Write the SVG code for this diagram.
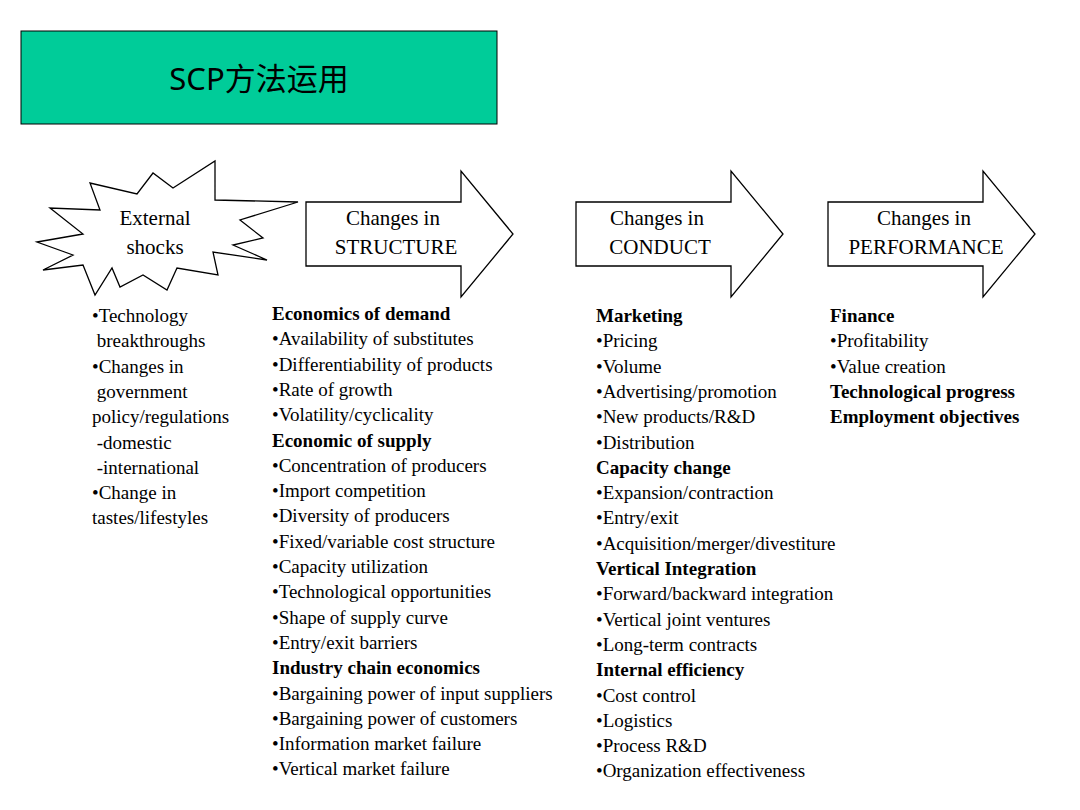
<svg xmlns="http://www.w3.org/2000/svg" width="1080" height="810" viewBox="0 0 1080 810">
<style>
.s{fill:#fff;stroke:#000;stroke-width:1.3}
.t{font-family:"Liberation Serif",serif;font-size:19px;fill:#000}
.c{text-anchor:middle;font-size:21px}
.b{font-weight:bold}
</style>
<rect width="1080" height="810" fill="#fff"/>
<g id="title"><rect x="21" y="31" width="476" height="93" fill="#00CC99" stroke="#000" stroke-width="1"/>
<text x="259" y="90" text-anchor="middle" style="font-family:'Noto Sans','Noto Sans CJK SC',sans-serif;font-size:31px">SCP方法运用</text></g>
<g id="shocks"><polygon class="s" points="37,242 83,234 50,208 100,210 90,183 137,194 153,173 173,188 215,161 215,200 298,202 240,220 263,238 233,245 267,260 213,252 218,275 177,268 167,290 143,275 120,287 112,268 95,295 83,265 43,270 73,255"/>
<text class="t c" x="155" y="225">External</text><text class="t c" x="155" y="254">shocks</text></g>
<g id="structure"><polygon class="s" points="306,202 461,202 461,171 513,234 461,297 461,266 306,266"/>
<text class="t c" x="393" y="225">Changes in</text><text class="t c" x="396" y="254">STRUCTURE</text></g>
<g id="conduct"><polygon class="s" points="576,202 731,202 731,171 783,234 731,297 731,266 576,266"/>
<text class="t c" x="657" y="225">Changes in</text><text class="t c" x="660" y="254">CONDUCT</text></g>
<g id="performance"><polygon class="s" points="828,202 983,202 983,171 1035,234 983,297 983,266 828,266"/>
<text class="t c" x="924" y="225">Changes in</text><text class="t c" x="926" y="254">PERFORMANCE</text></g>
<g id="connectors"></g>
<text class="t" x="92" y="322">•Technology<tspan x="92" dy="25.3"> breakthroughs</tspan><tspan x="92" dy="25.3">•Changes in</tspan><tspan x="92" dy="25.3"> government</tspan><tspan x="92" dy="25.3">policy/regulations</tspan><tspan x="92" dy="25.3"> -domestic</tspan><tspan x="92" dy="25.3"> -international</tspan><tspan x="92" dy="25.3">•Change in</tspan><tspan x="92" dy="25.3">tastes/lifestyles</tspan></text>
<text class="t" x="272" y="320"><tspan class="b">Economics of demand</tspan><tspan x="272" dy="25.3">•Availability of substitutes</tspan><tspan x="272" dy="25.3">•Differentiability of products</tspan><tspan x="272" dy="25.3">•Rate of growth</tspan><tspan x="272" dy="25.3">•Volatility/cyclicality</tspan><tspan x="272" dy="25.3" class="b">Economic of supply</tspan><tspan x="272" dy="25.3">•Concentration of producers</tspan><tspan x="272" dy="25.3">•Import competition</tspan><tspan x="272" dy="25.3">•Diversity of producers</tspan><tspan x="272" dy="25.3">•Fixed/variable cost structure</tspan><tspan x="272" dy="25.3">•Capacity utilization</tspan><tspan x="272" dy="25.3">•Technological opportunities</tspan><tspan x="272" dy="25.3">•Shape of supply curve</tspan><tspan x="272" dy="25.3">•Entry/exit barriers</tspan><tspan x="272" dy="25.3" class="b">Industry chain economics</tspan><tspan x="272" dy="25.3">•Bargaining power of input suppliers</tspan><tspan x="272" dy="25.3">•Bargaining power of customers</tspan><tspan x="272" dy="25.3">•Information market failure</tspan><tspan x="272" dy="25.3">•Vertical market failure</tspan></text>
<text class="t" x="596" y="322"><tspan class="b">Marketing</tspan><tspan x="596" dy="25.3">•Pricing</tspan><tspan x="596" dy="25.3">•Volume</tspan><tspan x="596" dy="25.3">•Advertising/promotion</tspan><tspan x="596" dy="25.3">•New products/R&amp;D</tspan><tspan x="596" dy="25.3">•Distribution</tspan><tspan x="596" dy="25.3" class="b">Capacity change</tspan><tspan x="596" dy="25.3">•Expansion/contraction</tspan><tspan x="596" dy="25.3">•Entry/exit</tspan><tspan x="596" dy="25.3">•Acquisition/merger/divestiture</tspan><tspan x="596" dy="25.3" class="b">Vertical Integration</tspan><tspan x="596" dy="25.3">•Forward/backward integration</tspan><tspan x="596" dy="25.3">•Vertical joint ventures</tspan><tspan x="596" dy="25.3">•Long-term contracts</tspan><tspan x="596" dy="25.3" class="b">Internal efficiency</tspan><tspan x="596" dy="25.3">•Cost control</tspan><tspan x="596" dy="25.3">•Logistics</tspan><tspan x="596" dy="25.3">•Process R&amp;D</tspan><tspan x="596" dy="25.3">•Organization effectiveness</tspan></text>
<text class="t" x="830" y="322"><tspan class="b">Finance</tspan><tspan x="830" dy="25.3">•Profitability</tspan><tspan x="830" dy="25.3">•Value creation</tspan><tspan x="830" dy="25.3" class="b">Technological progress</tspan><tspan x="830" dy="25.3" class="b">Employment objectives</tspan></text>
</svg>
